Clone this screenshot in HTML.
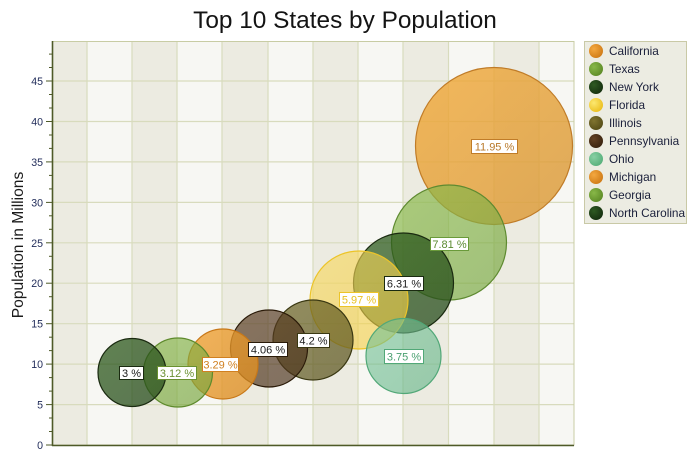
<!DOCTYPE html>
<html><head><meta charset="utf-8"><style>
html,body{margin:0;padding:0;background:#fff;}
svg{display:block;font-family:"Liberation Sans",sans-serif;}
</style></head><body>
<svg width="694" height="453" viewBox="0 0 694 453" xmlns="http://www.w3.org/2000/svg">
<defs>
<linearGradient id="gCA" x1="0" y1="0" x2="1" y2="1"><stop offset="0" stop-color="#f2aa3a"/><stop offset="1" stop-color="#d89838"/></linearGradient>
<linearGradient id="gTX" x1="0" y1="0" x2="1" y2="1"><stop offset="0" stop-color="#8cbc4c"/><stop offset="1" stop-color="#76a440"/></linearGradient>
<linearGradient id="gNY" x1="0" y1="0" x2="1" y2="1"><stop offset="0" stop-color="#2e5e1c"/><stop offset="1" stop-color="#24481a"/></linearGradient>
<linearGradient id="gFL" x1="0" y1="0" x2="1" y2="1"><stop offset="0" stop-color="#f8d860"/><stop offset="1" stop-color="#f0cc40"/></linearGradient>
<linearGradient id="gIL" x1="0" y1="0" x2="1" y2="1"><stop offset="0" stop-color="#6c6424"/><stop offset="1" stop-color="#5a5420"/></linearGradient>
<linearGradient id="gPA" x1="0" y1="0" x2="1" y2="1"><stop offset="0" stop-color="#5a3c22"/><stop offset="1" stop-color="#48301a"/></linearGradient>
<linearGradient id="gOH" x1="0" y1="0" x2="1" y2="1"><stop offset="0" stop-color="#78c498"/><stop offset="1" stop-color="#64b488"/></linearGradient>
<linearGradient id="gMI" x1="0" y1="0" x2="1" y2="1"><stop offset="0" stop-color="#f0a030"/><stop offset="1" stop-color="#dc8c20"/></linearGradient>
<linearGradient id="gGA" x1="0" y1="0" x2="1" y2="1"><stop offset="0" stop-color="#88b84a"/><stop offset="1" stop-color="#74a23c"/></linearGradient>
<linearGradient id="gNC" x1="0" y1="0" x2="1" y2="1"><stop offset="0" stop-color="#2c5a1a"/><stop offset="1" stop-color="#24481a"/></linearGradient>
<radialGradient id="iCA" cx="0.35" cy="0.35" r="0.7"><stop offset="0" stop-color="#f4a840"/><stop offset="1" stop-color="#d07c18"/></radialGradient>
<radialGradient id="iTX" cx="0.35" cy="0.35" r="0.7"><stop offset="0" stop-color="#88b848"/><stop offset="1" stop-color="#5e8c28"/></radialGradient>
<radialGradient id="iNY" cx="0.35" cy="0.35" r="0.7"><stop offset="0" stop-color="#2e5a22"/><stop offset="1" stop-color="#163010"/></radialGradient>
<radialGradient id="iFL" cx="0.35" cy="0.35" r="0.7"><stop offset="0" stop-color="#fce870"/><stop offset="1" stop-color="#ecc020"/></radialGradient>
<radialGradient id="iIL" cx="0.35" cy="0.35" r="0.7"><stop offset="0" stop-color="#807430"/><stop offset="1" stop-color="#564e18"/></radialGradient>
<radialGradient id="iPA" cx="0.35" cy="0.35" r="0.7"><stop offset="0" stop-color="#644224"/><stop offset="1" stop-color="#3a2410"/></radialGradient>
<radialGradient id="iOH" cx="0.35" cy="0.35" r="0.7"><stop offset="0" stop-color="#88d0a4"/><stop offset="1" stop-color="#58b07c"/></radialGradient>
</defs>

<text x="345" y="28" font-size="24.4" text-anchor="middle" fill="#141414">Top 10 States by Population</text>

<rect x="52" y="41" width="522" height="404" fill="#f7f7f3"/>
<g fill="#ecebe1">
<rect x="52" y="41" width="35" height="404"/>
<rect x="132" y="41" width="45" height="404"/>
<rect x="222" y="41" width="46" height="404"/>
<rect x="313" y="41" width="45" height="404"/>
<rect x="403" y="41" width="45" height="404"/>
<rect x="494" y="41" width="45" height="404"/>
</g>
<g stroke="#d8dbbd" stroke-width="1.2">
<line x1="87" y1="41" x2="87" y2="445"/>
<line x1="132" y1="41" x2="132" y2="445"/>
<line x1="177" y1="41" x2="177" y2="445"/>
<line x1="222" y1="41" x2="222" y2="445"/>
<line x1="268" y1="41" x2="268" y2="445"/>
<line x1="313" y1="41" x2="313" y2="445"/>
<line x1="358" y1="41" x2="358" y2="445"/>
<line x1="403" y1="41" x2="403" y2="445"/>
<line x1="448.5" y1="41" x2="448.5" y2="445"/>
<line x1="494" y1="41" x2="494" y2="445"/>
<line x1="539" y1="41" x2="539" y2="445"/>
<line x1="52" y1="404.6" x2="574" y2="404.6"/>
<line x1="52" y1="364.1" x2="574" y2="364.1"/>
<line x1="52" y1="323.7" x2="574" y2="323.7"/>
<line x1="52" y1="283.2" x2="574" y2="283.2"/>
<line x1="52" y1="242.8" x2="574" y2="242.8"/>
<line x1="52" y1="202.4" x2="574" y2="202.4"/>
<line x1="52" y1="161.9" x2="574" y2="161.9"/>
<line x1="52" y1="121.5" x2="574" y2="121.5"/>
<line x1="52" y1="81.0" x2="574" y2="81.0"/>
</g>
<rect x="52.5" y="41.5" width="521.5" height="403.5" fill="none" stroke="#c8cca4" stroke-width="1"/>

<g stroke-width="1.2">
<circle cx="494" cy="146" r="78.5" fill="url(#gCA)" fill-opacity="0.82" stroke="#c07c28"/>
<circle cx="449" cy="242.5" r="57.5" fill="url(#gTX)" fill-opacity="0.68" stroke="#5e8a30"/>
<circle cx="403.5" cy="283" r="50" fill="url(#gNY)" fill-opacity="0.74" stroke="#1a2a10"/>
<circle cx="359" cy="300" r="49" fill="url(#gFL)" fill-opacity="0.62" stroke="#ecc428"/>
<circle cx="313" cy="340" r="40" fill="url(#gIL)" fill-opacity="0.72" stroke="#3a3812"/>
<circle cx="269" cy="348.5" r="38.5" fill="url(#gPA)" fill-opacity="0.68" stroke="#2a1a08"/>
<circle cx="403.5" cy="356" r="37.5" fill="url(#gOH)" fill-opacity="0.62" stroke="#52a878"/>
<circle cx="223" cy="364" r="35" fill="url(#gMI)" fill-opacity="0.78" stroke="#c87818"/>
<circle cx="178" cy="372.5" r="34.5" fill="url(#gGA)" fill-opacity="0.66" stroke="#5e8a2c"/>
<circle cx="132" cy="372.5" r="34" fill="url(#gNC)" fill-opacity="0.74" stroke="#1a2a10"/>
</g>

<g font-size="11" text-anchor="middle">
<rect x="471.5" y="139.5" width="46" height="14" fill="#fff" stroke="#c07c28"/>
<text x="494.5" y="150.5" fill="#b87828">11.95 %</text>
<rect x="430.5" y="237.5" width="38" height="13" fill="#fff" stroke="#6a9a3a"/>
<text x="449.5" y="248" fill="#5a8a30">7.81 %</text>
<rect x="384.5" y="276.5" width="39" height="14" fill="#fff" stroke="#1a2a10"/>
<text x="404" y="287.5" fill="#1a1a1a">6.31 %</text>
<rect x="339.5" y="292.5" width="39" height="14" fill="#fff" stroke="#ecc428"/>
<text x="359" y="303.5" fill="#e8c020">5.97 %</text>
<rect x="297.5" y="333.5" width="32" height="14" fill="#fff" stroke="#3a3812"/>
<text x="313.5" y="344.5" fill="#1a1a1a">4.2 %</text>
<rect x="248.5" y="342.5" width="39" height="14" fill="#fff" stroke="#2a1a08"/>
<text x="268" y="353.5" fill="#1a1a1a">4.06 %</text>
<rect x="384.5" y="349.5" width="39" height="14" fill="#fff" stroke="#52a878"/>
<text x="404" y="360.5" fill="#4aa070">3.75 %</text>
<rect x="202.5" y="357.5" width="36" height="14" fill="#fff" stroke="#d08020"/>
<text x="220.5" y="368.5" fill="#d08020">3.29 %</text>
<rect x="157.5" y="366.5" width="39" height="13" fill="#fff" stroke="#6a9030"/>
<text x="177" y="377" fill="#6a9030">3.12 %</text>
<rect x="119.5" y="366.5" width="24" height="13" fill="#fff" stroke="#1a2a10"/>
<text x="131.5" y="377" fill="#1a1a1a">3 %</text>
</g>

<g stroke="#4e5a28">
<line x1="52.5" y1="41" x2="52.5" y2="446" stroke-width="1.6"/>
<line x1="52" y1="445.5" x2="574" y2="445.5" stroke-width="1.6"/>
</g>
<g stroke="#4e5a28" stroke-width="1">
<line x1="46" y1="445" x2="52" y2="445"/>
<line x1="46" y1="404.6" x2="52" y2="404.6"/>
<line x1="46" y1="364.1" x2="52" y2="364.1"/>
<line x1="46" y1="323.7" x2="52" y2="323.7"/>
<line x1="46" y1="283.2" x2="52" y2="283.2"/>
<line x1="46" y1="242.8" x2="52" y2="242.8"/>
<line x1="46" y1="202.4" x2="52" y2="202.4"/>
<line x1="46" y1="161.9" x2="52" y2="161.9"/>
<line x1="46" y1="121.5" x2="52" y2="121.5"/>
<line x1="46" y1="81.0" x2="52" y2="81.0"/>
<line x1="49" y1="431.5" x2="52" y2="431.5"/><line x1="49" y1="418.0" x2="52" y2="418.0"/>
<line x1="49" y1="391.1" x2="52" y2="391.1"/><line x1="49" y1="377.6" x2="52" y2="377.6"/>
<line x1="49" y1="350.6" x2="52" y2="350.6"/><line x1="49" y1="337.2" x2="52" y2="337.2"/>
<line x1="49" y1="310.2" x2="52" y2="310.2"/><line x1="49" y1="296.7" x2="52" y2="296.7"/>
<line x1="49" y1="269.7" x2="52" y2="269.7"/><line x1="49" y1="256.3" x2="52" y2="256.3"/>
<line x1="49" y1="229.3" x2="52" y2="229.3"/><line x1="49" y1="215.8" x2="52" y2="215.8"/>
<line x1="49" y1="188.9" x2="52" y2="188.9"/><line x1="49" y1="175.4" x2="52" y2="175.4"/>
<line x1="49" y1="148.4" x2="52" y2="148.4"/><line x1="49" y1="135.0" x2="52" y2="135.0"/>
<line x1="49" y1="108.0" x2="52" y2="108.0"/><line x1="49" y1="94.5" x2="52" y2="94.5"/>
<line x1="49" y1="67.5" x2="52" y2="67.5"/><line x1="49" y1="54.1" x2="52" y2="54.1"/>
</g>
<g font-size="10.6" fill="#1f2a58" text-anchor="end">
<text x="43" y="449">0</text>
<text x="43" y="408.6">5</text>
<text x="43" y="368.1">10</text>
<text x="43" y="327.7">15</text>
<text x="43" y="287.2">20</text>
<text x="43" y="246.8">25</text>
<text x="43" y="206.4">30</text>
<text x="43" y="165.9">35</text>
<text x="43" y="125.5">40</text>
<text x="43" y="85.0">45</text>
</g>
<text transform="translate(23,245) rotate(-90)" font-size="15.6" text-anchor="middle" fill="#1a1a1a">Population in Millions</text>

<rect x="584.5" y="41.5" width="102" height="182" fill="#ecece2" stroke="#c9c9a6"/>
<g>
<circle cx="596" cy="51" r="7" fill="url(#iCA)"/>
<circle cx="596" cy="69" r="7" fill="url(#iTX)"/>
<circle cx="596" cy="87" r="7" fill="url(#iNY)"/>
<circle cx="596" cy="105" r="7" fill="url(#iFL)"/>
<circle cx="596" cy="123" r="7" fill="url(#iIL)"/>
<circle cx="596" cy="141" r="7" fill="url(#iPA)"/>
<circle cx="596" cy="159" r="7" fill="url(#iOH)"/>
<circle cx="596" cy="177" r="7" fill="url(#iCA)"/>
<circle cx="596" cy="195" r="7" fill="url(#iTX)"/>
<circle cx="596" cy="213" r="7" fill="url(#iNY)"/>
</g>
<g font-size="11.8" fill="#1a1f3a">
<text x="609" y="55">California</text>
<text x="609" y="73">Texas</text>
<text x="609" y="91">New York</text>
<text x="609" y="109">Florida</text>
<text x="609" y="127">Illinois</text>
<text x="609" y="145">Pennsylvania</text>
<text x="609" y="163">Ohio</text>
<text x="609" y="181">Michigan</text>
<text x="609" y="199">Georgia</text>
<text x="609" y="217">North Carolina</text>
</g>
</svg>
</body></html>
